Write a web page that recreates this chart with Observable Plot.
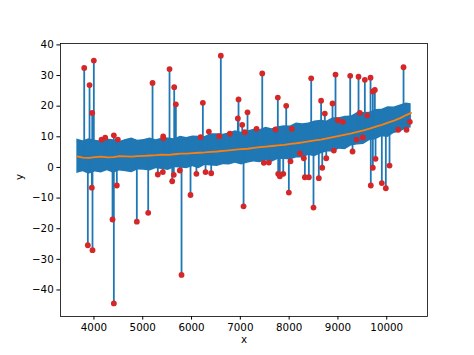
<!DOCTYPE html>
<html>
<head>
<meta charset="utf-8">
<script src="https://cdn.jsdelivr.net/npm/d3@7"></script>
<script src="https://cdn.jsdelivr.net/npm/@observablehq/plot@0.6"></script>
<style>
  html, body { margin: 0; padding: 0; background: #fff; }
  #chart svg { font-family: "DejaVu Sans", sans-serif; }
</style>
</head>
<body>
<div id="chart"></div>
<script>
// Sample positions for the noisy band envelope and the trend
const sampleX = [3650, 3775, 3900, 4025, 4150, 4275, 4400, 4525, 4650, 4775, 4900, 5025, 5150, 5275, 5400, 5525, 5650, 5775, 5900, 6025, 6150, 6275, 6400, 6525, 6650, 6775, 6900, 7025, 7150, 7275, 7400, 7525, 7650, 7775, 7900, 8025, 8150, 8275, 8400, 8525, 8650, 8775, 8900, 9025, 9150, 9275, 9400, 9525, 9650, 9775, 9900, 10025, 10150, 10275, 10400, 10500];
const bandHi = [9.3, 8.7, 9.4, 8.9, 8.6, 9.3, 9.0, 8.5, 9.1, 9.6, 8.9, 9.1, 9.6, 9.0, 9.6, 9.6, 9.4, 10.2, 9.8, 10.3, 10.2, 10.1, 11.0, 11.0, 10.8, 11.3, 12.0, 11.5, 11.9, 12.5, 12.3, 13.1, 12.6, 13.3, 13.6, 13.5, 14.5, 14.3, 14.5, 15.2, 15.4, 15.2, 16.2, 16.2, 16.7, 16.8, 17.9, 17.9, 18.0, 18.9, 19.0, 19.8, 19.7, 20.4, 21.0, 20.8];
const bandLo = [-2.0, -1.4, -2.2, -1.5, -1.8, -1.1, -1.9, -1.2, -1.4, -1.7, -0.8, -0.9, -1.2, -0.4, -0.7, -1.0, -0.1, -0.2, -0.4, 0.2, -0.4, 0.6, 0.5, 0.3, 0.9, 0.8, 1.4, 0.8, 1.4, 1.8, 1.5, 2.1, 1.7, 2.6, 2.6, 2.4, 3.1, 3.1, 3.9, 3.5, 4.4, 5.0, 5.0, 5.9, 5.8, 7.0, 7.3, 7.5, 8.7, 9.0, 10.0, 9.8, 11.1, 11.5, 12.6, 12.9];
const trendY = [3.6, 3.2, 3.1, 3.4, 3.5, 3.3, 3.4, 3.7, 3.6, 3.5, 3.7, 3.8, 3.9, 4.0, 4.2, 4.1, 4.3, 4.5, 4.5, 4.7, 4.8, 4.9, 5.1, 5.2, 5.4, 5.6, 5.8, 6.0, 6.1, 6.4, 6.6, 6.8, 7.0, 7.2, 7.4, 7.7, 7.9, 8.2, 8.5, 8.8, 9.1, 9.5, 9.9, 10.3, 10.7, 11.1, 11.6, 12.1, 12.7, 13.3, 13.9, 14.6, 15.3, 16.1, 17.1, 17.8];

// Outliers (red points)
const outX = [3801, 3910, 3965, 3998, 4156, 4231, 4408, 4490, 5201, 5419, 5425, 5549, 5645, 5679, 6184, 6232, 6355, 6567, 6600, 6785, 6949, 6963, 7039, 7092, 7147, 7332, 7449, 7721, 7768, 7940, 8055, 8452, 8655, 8731, 8889, 8950, 8998, 9100, 9251, 9422, 9448, 9551, 9600, 9668, 9715, 9756, 10235, 10344, 10405, 10473,
  9510, 9381, 9299, 8916, 8760, 8219, 8301, 8028, 7481, 7584, 9770, 10057, 8678, 9715,
  3875, 3957, 3971, 4381, 4408, 4469, 4879, 5112, 5309, 5412, 5604, 5637, 5760, 5795, 5979, 6100, 6287, 6403, 7066, 7776, 7809, 7879, 7994, 8322, 8404, 8499, 8608, 9673, 9899, 9981];
const outY = [32.5, 26.9, 17.8, 34.9, 9.1, 9.7, 10.5, 9.1, 27.6, 10.1, 9.5, 32.1, 26.2, 20.6, 9.9, 21.1, 11.7, 10.2, 36.5, 11.0, 16.0, 22.2, 13.9, 11.5, 18.0, 12.6, 30.7, 12.4, 22.8, 20.1, 12.6, 29.1, 21.8, 17.6, 20.9, 30.3, 15.4, 14.9, 29.9, 29.6, 17.8, 28.6, 17.0, 29.3, 24.8, 25.3, 12.3, 32.7, 12.3, 14.9,
  9.8, 9.1, 5.2, 5.5, 3.0, 4.6, 3.0, 2.0, 1.5, 1.6, 2.8, 0.6, -0.1, -0.1,
  -25.4, -6.6, -27.0, -17.0, -44.4, -5.9, -17.7, -14.8, -2.3, -1.5, -4.5, -2.4, -1.0, -35.1, -9.0, -2.1, -1.5, -1.9, -12.7, -2.1, -2.9, -2.1, -8.2, -3.2, -3.2, -13.1, -3.5, -5.9, -5.1, -6.8];

const xTicks = [4000, 5000, 6000, 7000, 8000, 9000, 10000];
const yTicks = [-40, -30, -20, -10, 0, 10, 20, 30, 40];

const band = sampleX.map((x, i) => ({x, lo: bandLo[i], hi: bandHi[i]}));
const trend = sampleX.map((x, i) => ({x, y: trendY[i]}));
function baseAt(x) {
  const i = Math.min(Math.max(d3.bisectLeft(sampleX, x), 1), sampleX.length - 1);
  const t = (x - sampleX[i - 1]) / (sampleX[i] - sampleX[i - 1]);
  return trendY[i - 1] + t * (trendY[i] - trendY[i - 1]);
}
const outliers = outX.map((x, i) => ({x, y: outY[i], base: baseAt(x)}));

const blue = "#1f77b4", orange = "#ff7f0e", red = "#d62728";
const minus = d => d < 0 ? "\u2212" + Math.abs(d) : String(d);

const chart = Plot.plot({
  width: 474,
  height: 355,
  marginLeft: 60,
  marginRight: 47,
  marginTop: 43,
  marginBottom: 39,
  style: {fontFamily: "DejaVu Sans, sans-serif", fontSize: "10.3px", color: "#000", background: "#fff"},
  x: {domain: [3315, 10835]},
  y: {domain: [-48.66, 40.46]},
  marks: [
    Plot.areaY(band, {x: "x", y1: "lo", y2: "hi", fill: blue, fillOpacity: 1, curve: "linear"}),
    Plot.ruleX(outliers, {x: "x", y1: "base", y2: "y", stroke: blue, strokeWidth: 1.8}),
    Plot.line(trend, {x: "x", y: "y", stroke: orange, strokeWidth: 1.8}),
    Plot.dot(outliers, {x: "x", y: "y", r: 2.9, fill: red, stroke: "none"}),
    Plot.frame({stroke: "#000", strokeWidth: 0.8}),
    Plot.axisX({ticks: xTicks, tickFormat: d => String(d), tickSize: 3.6, tickPadding: 3.2, label: null, stroke: "#000"}),
    Plot.axisY({ticks: yTicks, tickFormat: minus, tickSize: 3.6, tickPadding: 3.2, label: null, stroke: "#000"}),
    Plot.text(["x"], {frameAnchor: "bottom", text: d => d, dy: 26, fontSize: 10.3, fill: "#000"}),
    Plot.text(["y"], {frameAnchor: "left", text: d => d, dx: -41, rotate: -90, fontSize: 10.3, fill: "#000"})
  ]
});
document.getElementById("chart").appendChild(chart);
</script>
</body>
</html>
